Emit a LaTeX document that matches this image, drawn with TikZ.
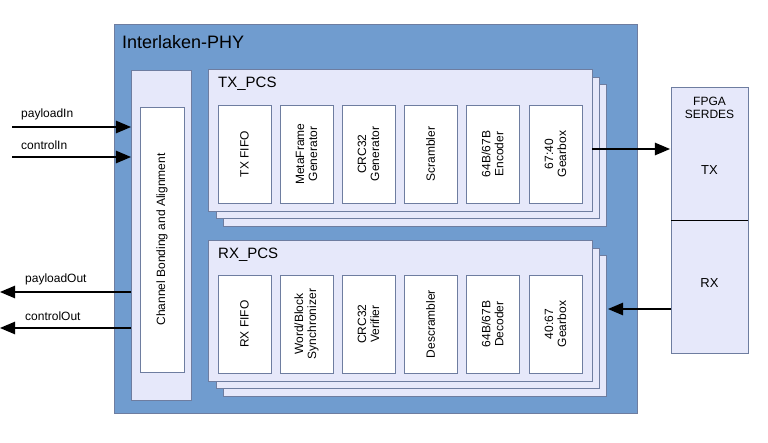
\documentclass[tikz,border=0pt]{standalone}
\usepackage{fontspec}
\setmainfont{Liberation Sans}
\usepackage{tikz}
\usetikzlibrary{shapes,arrows}
\definecolor{phyblue}{RGB}{112,156,207}
\definecolor{pcsfill}{RGB}{230,232,250}
\definecolor{pcsline}{RGB}{110,125,160}
\tikzstyle{pcsbox} = [draw=pcsline, fill=pcsfill, thin]
\tikzstyle{stage} = [draw=pcsline, fill=white, thin, minimum width=53pt, minimum height=98pt, inner sep=0pt]
\tikzstyle{stagetext} = [rotate=90, align=center, font=\fontsize{12}{13}\selectfont]
\tikzstyle{bus} = [draw, -triangle 45, line width=2.6pt]
\tikzstyle{portlabel} = [anchor=south west, inner sep=1pt, font=\fontsize{12}{13}\selectfont]

\begin{document}
\begin{tikzpicture}[x=1pt, y=-1pt]
\useasboundingbox (0,0) rectangle (768,442);
\draw[draw=pcsline, fill=phyblue] (114,24) rectangle (637,413);
\node[anchor=west, inner sep=0pt, font=\fontsize{18}{20}\selectfont] (phytitle) at (122,42) {Interlaken-PHY};

% channel bonding
\draw[pcsbox] (131,70) rectangle (191,400);
\node[stage, minimum width=44pt, minimum height=265pt] (bonding) at (162,239.5) {};
\node[stagetext] at (bonding) {Channel Bonding and Alignment};

% TX_PCS
\draw[pcsbox] (223,84) rectangle (606,226);
\draw[pcsbox] (216,77) rectangle (599,218);
\draw[pcsbox] (208,69) rectangle (592,211);
\node[anchor=west, inner sep=0pt, font=\fontsize{15}{16}\selectfont] (txtitle) at (218,84) {TX\_PCS};
\node[stage] (txfifo) at (244.5,154) {};
\node[stagetext] at (txfifo) {TX FIFO};
\node[stage] (txmeta) at (306.5,154) {};
\node[stagetext] at (txmeta) {MetaFrame\\Generator};
\node[stage] (txcrc) at (368.5,154) {};
\node[stagetext] at (txcrc) {CRC32\\Generator};
\node[stage] (txscr) at (430.5,154) {};
\node[stagetext] at (txscr) {Scrambler};
\node[stage] (txenc) at (492.5,154) {};
\node[stagetext] at (txenc) {64B/67B\\Encoder};
\node[stage] (txgear) at (555.5,154) {};
\node[stagetext] at (txgear) {67:40\\Gearbox};

% RX_PCS
\draw[pcsbox] (223,255) rectangle (606,396);
\draw[pcsbox] (216,248) rectangle (599,388);
\draw[pcsbox] (208,240) rectangle (592,381);
\node[anchor=west, inner sep=0pt, font=\fontsize{15}{16}\selectfont] (rxtitle) at (218,255) {RX\_PCS};
\node[stage] (rxfifo) at (244.5,324) {};
\node[stagetext] at (rxfifo) {RX FIFO};
\node[stage] (rxsync) at (306.5,324) {};
\node[stagetext] at (rxsync) {Word/Block\\Synchronizer};
\node[stage] (rxcrc) at (368.5,324) {};
\node[stagetext] at (rxcrc) {CRC32\\Verifier};
\node[stage] (rxdscr) at (430.5,324) {};
\node[stagetext] at (rxdscr) {Descrambler};
\node[stage] (rxdec) at (492.5,324) {};
\node[stagetext] at (rxdec) {64B/67B\\Decoder};
\node[stage] (rxgear) at (555.5,324) {};
\node[stagetext] at (rxgear) {40:67\\Gearbox};

% FPGA SERDES
\draw[pcsbox] (671,87) rectangle (748,353);
\draw[thin, black] (671,220) -- (748,220);
\node[align=center, font=\fontsize{12}{13}\selectfont] (serdes) at (709.5,108) {FPGA\\SERDES};
\node[font=\fontsize{13}{14}\selectfont] (serdestx) at (709.5,170) {TX};
\node[font=\fontsize{13}{14}\selectfont] (serdesrx) at (709.5,283) {RX};

% ports
\coordinate (txout) at (592,149);
\coordinate (txin) at (670,149);
\coordinate (rxout) at (671,309);
\coordinate (rxin) at (608,309);
\path[bus] (txout) to (txin);
\path[bus] (rxout) to (rxin);

\coordinate (pinstart) at (12,127);
\coordinate (pinend) at (131,127);
\coordinate (cinstart) at (12,157);
\coordinate (cinend) at (131,157);
\coordinate (poutstart) at (131,292);
\coordinate (poutend) at (0,292);
\coordinate (coutstart) at (131,328);
\coordinate (coutend) at (0,328);
\path[bus] (pinstart) to (pinend);
\path[bus] (cinstart) to (cinend);
\path[bus] (poutstart) to (poutend);
\path[bus] (coutstart) to (coutend);
\node[portlabel] (payloadin) at (20,121) {payloadIn};
\node[portlabel] (controlin) at (20,151) {controlIn};
\node[portlabel] (payloadout) at (24,286) {payloadOut};
\node[portlabel] (controlout) at (24,322) {controlOut};
\end{tikzpicture}
\end{document}
